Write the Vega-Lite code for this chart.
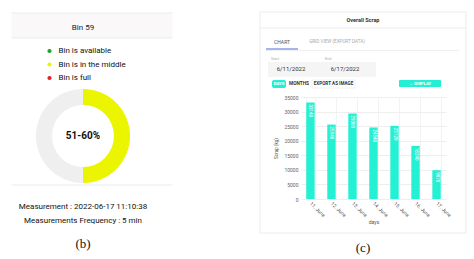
{
  "$schema": "https://vega.github.io/schema/vega-lite/v6.json",
  "padding": {"left": 10.5, "top": 11, "right": 0, "bottom": 0},
  "background": "white",
  "bounds": "flush",
  "spacing": 146.5,
  "config": {"view": {"stroke": null}, "font": "Roboto"},
  "datasets": {
    "scrap": [
      {"day": "11. June", "scrap": 33140},
      {"day": "12. June", "scrap": 25540},
      {"day": "13. June", "scrap": 29360},
      {"day": "14. June", "scrap": 24540},
      {"day": "15. June", "scrap": 25120},
      {"day": "16. June", "scrap": 18240},
      {"day": "17. June", "scrap": 9870}
    ],
    "bin": [
      {"status": "Bin is in the middle", "share": 50},
      {"status": "Remaining", "share": 50}
    ]
  },
  "hconcat": [
    {
      "width": 143,
      "height": 78,
      "title": {
        "text": ["Measurement : 2022-06-17 11:10:38", "Measurements Frequency : 5 min"],
        "orient": "bottom", "frame": "group", "anchor": "middle", "offset": 17,
        "fontSize": 8, "fontWeight": "normal", "color": "#111", "lineHeight": 14,
        "subtitle": "(b)", "subtitleFont": "Liberation Serif", "subtitleFontSize": 13,
        "subtitleColor": "#111", "subtitlePadding": 13
      },
      "layer": [
        {
          "data": {"values": [{"part": "header box"}]},
          "mark": {"type": "rect", "fill": "#faf8f8"},
          "encoding": {"x": {"value": 0}, "x2": {"value": 161}, "y": {"value": -84}, "y2": {"value": -59}}
        },
        {
          "data": {"values": [{"part": "header top"}]},
          "mark": {"type": "rule", "stroke": "#ececec"},
          "encoding": {"x": {"value": 0}, "x2": {"value": 161}, "y": {"value": -84}}
        },
        {
          "data": {"values": [{"part": "header bottom"}]},
          "mark": {"type": "rule", "stroke": "#ececec"},
          "encoding": {"x": {"value": 0}, "x2": {"value": 161}, "y": {"value": -59}}
        },
        {
          "data": {"values": [{"part": "separator"}]},
          "mark": {"type": "rule", "stroke": "#ececec"},
          "encoding": {"x": {"value": 0}, "x2": {"value": 161}, "y": {"value": 88}}
        },
        {
          "data": {"name": "bin"},
          "mark": {"type": "arc", "innerRadius": 31, "outerRadius": 47},
          "encoding": {
            "theta": {"field": "share", "type": "quantitative"},
            "order": {"field": "status", "sort": "ascending"},
            "color": {
              "field": "status", "type": "nominal",
              "scale": {
                "domain": ["Bin is available", "Bin is in the middle", "Bin is full", "Remaining"],
                "range": ["#1fa32a", "#ebf500", "#e3202a", "#efefef"]
              },
              "legend": {
                "values": ["Bin is available", "Bin is in the middle", "Bin is full"],
                "orient": "none", "legendX": 34, "legendY": -50, "title": null,
                "padding": 0, "symbolType": "circle", "symbolSize": 18,
                "labelFontSize": 8, "labelColor": "#111", "labelOffset": 5, "rowPadding": 5.5
              }
            }
          }
        },
        {
          "data": {"values": [{"label": "51-60%"}]},
          "mark": {"type": "text", "fontSize": 10, "fontWeight": "bold", "color": "#111"},
          "encoding": {"text": {"field": "label"}}
        },
        {
          "data": {"values": [{"label": "Bin 59"}]},
          "mark": {"type": "text", "fontSize": 8, "color": "#222", "dy": -108},
          "encoding": {"text": {"field": "label"}}
        }
      ]
    },
    {
      "width": 145,
      "height": 102,
      "title": {
        "text": "(c)", "orient": "bottom", "frame": "group", "anchor": "middle", "dx": -10.5,
        "offset": 8, "font": "Liberation Serif", "fontSize": 13, "fontWeight": "normal", "color": "#111"
      },
      "layer": [
        {
          "data": {"values": [{"part": "card"}]},
          "mark": {"type": "rect", "fill": null, "stroke": "#ececec", "strokeWidth": 1},
          "encoding": {"x": {"value": -41}, "x2": {"value": 165}, "y": {"value": -85}, "y2": {"value": 136}}
        },
        {
          "data": {"values": [{"part": "header line"}]},
          "mark": {"type": "rule", "stroke": "#ececec"},
          "encoding": {"x": {"value": -41}, "x2": {"value": 165}, "y": {"value": -69}}
        },
        {
          "data": {"values": [{"label": "Overall Scrap"}]},
          "mark": {"type": "text", "fontSize": 5.5, "fontWeight": "bold", "color": "#333"},
          "encoding": {"text": {"field": "label"}, "x": {"value": 62}, "y": {"value": -77}}
        },
        {
          "data": {"values": [{"label": "CHART"}]},
          "mark": {"type": "text", "fontSize": 5, "color": "#555"},
          "encoding": {"text": {"field": "label"}, "x": {"value": -19}, "y": {"value": -55}}
        },
        {
          "data": {"values": [{"label": "GRID VIEW (EXPORT DATA)"}]},
          "mark": {"type": "text", "fontSize": 4.6, "color": "#aaa"},
          "encoding": {"text": {"field": "label"}, "x": {"value": 36}, "y": {"value": -55}}
        },
        {
          "data": {"values": [{"part": "tab line"}]},
          "mark": {"type": "rule", "stroke": "#eeeeee"},
          "encoding": {"x": {"value": -35}, "x2": {"value": 158}, "y": {"value": -46.5}}
        },
        {
          "data": {"values": [{"part": "tab underline"}]},
          "mark": {"type": "rule", "stroke": "#8e9be6", "strokeWidth": 1.5},
          "encoding": {"x": {"value": -35}, "x2": {"value": -3}, "y": {"value": -48}}
        },
        {
          "data": {"values": [{"part": "inputs"}]},
          "mark": {"type": "rect", "fill": "#f5f5f5"},
          "encoding": {"x": {"value": -33}, "x2": {"value": 75}, "y": {"value": -35}, "y2": {"value": -20}}
        },
        {
          "data": {"values": [{"label": "Start"}]},
          "mark": {"type": "text", "fontSize": 3.8, "color": "#aaa", "align": "left"},
          "encoding": {"text": {"field": "label"}, "x": {"value": -30}, "y": {"value": -38}}
        },
        {
          "data": {"values": [{"label": "End"}]},
          "mark": {"type": "text", "fontSize": 3.8, "color": "#aaa", "align": "left"},
          "encoding": {"text": {"field": "label"}, "x": {"value": 24}, "y": {"value": -38}}
        },
        {
          "data": {"values": [{"label": "6/11/2022"}]},
          "mark": {"type": "text", "fontSize": 6, "color": "#333"},
          "encoding": {"text": {"field": "label"}, "x": {"value": -10}, "y": {"value": -28}}
        },
        {
          "data": {"values": [{"label": "6/17/2022"}]},
          "mark": {"type": "text", "fontSize": 6, "color": "#333"},
          "encoding": {"text": {"field": "label"}, "x": {"value": 44}, "y": {"value": -28}}
        },
        {
          "data": {"values": [{"part": "export button"}]},
          "mark": {"type": "rect", "fill": null, "stroke": "#eeeeee", "strokeWidth": 0.8},
          "encoding": {"x": {"value": 11}, "x2": {"value": 54}, "y": {"value": -17}, "y2": {"value": -9}}
        },
        {
          "data": {"values": [{"part": "days button"}]},
          "mark": {"type": "rect", "fill": "#22efd3", "cornerRadius": 2},
          "encoding": {"x": {"value": -29}, "x2": {"value": -15}, "y": {"value": -17}, "y2": {"value": -9}}
        },
        {
          "data": {"values": [{"part": "display button"}]},
          "mark": {"type": "rect", "fill": "#22efd3", "cornerRadius": 1},
          "encoding": {"x": {"value": 98}, "x2": {"value": 140}, "y": {"value": -17}, "y2": {"value": -10}}
        },
        {
          "data": {"values": [{"label": "DAYS"}]},
          "mark": {"type": "text", "fontSize": 4.3, "fontWeight": "bold", "color": "white"},
          "encoding": {"text": {"field": "label"}, "x": {"value": -22}, "y": {"value": -13}}
        },
        {
          "data": {"values": [{"label": "MONTHS"}]},
          "mark": {"type": "text", "fontSize": 4.8, "fontWeight": "bold", "color": "#333"},
          "encoding": {"text": {"field": "label"}, "x": {"value": -2}, "y": {"value": -13}}
        },
        {
          "data": {"values": [{"label": "EXPORT AS IMAGE"}]},
          "mark": {"type": "text", "fontSize": 4.6, "fontWeight": "bold", "color": "#333"},
          "encoding": {"text": {"field": "label"}, "x": {"value": 32.5}, "y": {"value": -13}}
        },
        {
          "data": {"values": [{"label": "→ DISPLAY"}]},
          "mark": {"type": "text", "fontSize": 4.3, "fontWeight": "bold", "color": "white"},
          "encoding": {"text": {"field": "label"}, "x": {"value": 119}, "y": {"value": -13.5}}
        },
        {
          "data": {"name": "scrap"},
          "mark": {"type": "bar", "color": "#24f0d4"},
          "encoding": {
            "x": {
              "field": "day", "type": "nominal", "sort": null,
              "scale": {"paddingInner": 0.6, "paddingOuter": 0.25},
              "axis": {
                "title": "days", "labelAngle": 45, "labelAlign": "left", "labelBaseline": "middle",
                "labelFontSize": 5, "labelColor": "#555", "labelPadding": 3,
                "domain": false, "ticks": false, "grid": true, "gridColor": "#f3f3f3", "tickBand": "extent",
                "titleFontSize": 5, "titleFontWeight": "normal", "titleColor": "#555", "titlePadding": 2
              }
            },
            "y": {
              "field": "scrap", "type": "quantitative",
              "scale": {"domain": [0, 35000], "nice": false},
              "axis": {
                "title": "Scrap (kg)", "tickCount": 7,
                "format": "d", "labelFontSize": 5, "labelColor": "#666", "labelPadding": 3,
                "labelOverlap": false, "labelFlush": false, "labelBound": false,
                "domain": false, "ticks": false, "grid": true, "gridColor": "#eeeeee",
                "titleFontSize": 4.6, "titleFontWeight": "normal", "titleColor": "#555", "titlePadding": 5
              }
            }
          }
        },
        {
          "data": {"name": "scrap"},
          "mark": {"type": "text", "angle": 90, "align": "left", "baseline": "middle", "dx": 2, "fontSize": 4.5, "color": "white"},
          "encoding": {
            "x": {"field": "day", "type": "nominal", "sort": null},
            "y": {"field": "scrap", "type": "quantitative"},
            "text": {"field": "scrap", "type": "quantitative", "format": "d"}
          }
        }
      ]
    }
  ]
}
